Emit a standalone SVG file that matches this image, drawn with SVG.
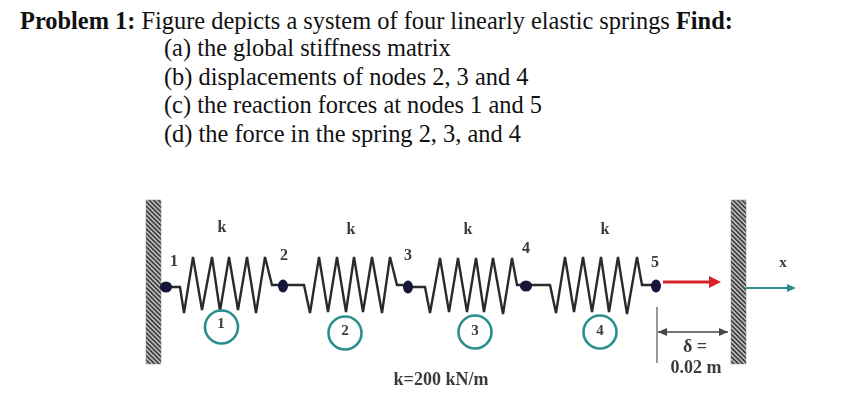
<svg xmlns="http://www.w3.org/2000/svg" width="847" height="415" viewBox="0 0 847 415">
<style>
.t{font-family:"Liberation Serif","Times New Roman",serif;font-size:24.4px;fill:#111}
.b{font-weight:bold}
.f{font-family:"Liberation Serif","Times New Roman",serif;font-weight:bold;fill:#3a3a3a;text-anchor:middle}
.s{font-size:16px}
.e{font-size:15px}
.m{font-size:18px}
.sp{fill:none;stroke:#2a2a2a;stroke-width:2.4;stroke-linejoin:miter}
.n{fill:#12123a}
.c{fill:none;stroke:#2b8f8c;stroke-width:2.6}
.w{fill:url(#h);stroke:#888;stroke-width:.5}
</style>
<defs>
<pattern id="h" width="3.2" height="3.2" patternUnits="userSpaceOnUse" patternTransform="rotate(45)">
<rect width="3.2" height="3.2" fill="#c4c4c4"/><rect width="3.2" height="1.7" fill="#3c3c3c"/>
</pattern>
<filter id="soft" x="-5%" y="-5%" width="110%" height="110%"><feGaussianBlur stdDeviation="0.55"/></filter>
<marker id="red" markerUnits="userSpaceOnUse" markerWidth="13" markerHeight="13" refX="1" refY="6.5" orient="auto"><path d="M0 .5L12 6.5L0 12.5Z" fill="#d8232a"/></marker>
<marker id="teal" markerUnits="userSpaceOnUse" markerWidth="10" markerHeight="8" refX="1" refY="4" orient="auto"><path d="M0 0L9 4L0 8Z" fill="#2b8f8c"/></marker>
<marker id="gr" markerUnits="userSpaceOnUse" markerWidth="10" markerHeight="8" refX="9" refY="4" orient="auto-start-reverse"><path d="M0 0L9 4L0 8Z" fill="#444"/></marker>
</defs>
<g id="problem">
<text class="t b" x="20" y="29">Problem 1:<tspan class="t" font-weight="normal"> Figure depicts a system of four linearly elastic springs </tspan>Find:</text>
<text class="t" x="164" y="56">(a) the global stiffness matrix</text>
<text class="t" x="164" y="85">(b) displacements of nodes 2, 3 and 4</text>
<text class="t" x="164" y="113">(c) the reaction forces at nodes 1 and 5</text>
<text class="t" x="164" y="142">(d) the force in the spring 2, 3, and 4</text>
</g>
<g filter="url(#soft)">
<g id="wall-left"><rect class="w" x="146" y="200" width="15" height="164"/></g>
<g id="wall-right"><rect class="w" x="731" y="200" width="15" height="164"/></g>
<g id="connectors">
<path class="sp" d="M166 287H180L184 313L193 257L202 310L212 257L220 311L229 257L238 310L247 257L256 313L265 257L272 285H283"/>
<path class="sp" d="M283 285H304L310 313L319 257L328 312L337 257L346 312L354 257L363 312L372 257L382 313L390 257L397 285H408"/>
<path class="sp" d="M408 287H425L430 313L440 258L449 312L458 258L467 312L476 258L484 312L493 258L503 314L512 258L517 285H526"/>
<path class="sp" d="M526 285H550L556 313L565 257L574 312L583 257L592 312L601 257L609 312L618 257L627 314L637 257L642 285H656"/>
<path d="M663 282H710" fill="none" stroke="#d8232a" stroke-width="3" marker-end="url(#red)"/>
<path d="M746 288H788" fill="none" stroke="#2b8f8c" stroke-width="2.2" marker-end="url(#teal)"/>
<path d="M657 307V363" fill="none" stroke="#555" stroke-width="1.2"/>
<path d="M658 332H728" fill="none" stroke="#444" stroke-width="1.6" marker-start="url(#gr)" marker-end="url(#gr)"/>
</g>
<g id="node-1"><ellipse class="n" cx="166" cy="287" rx="6" ry="5.5"/><text class="f s" x="174" y="266">1</text></g>
<g id="node-2"><ellipse class="n" cx="283" cy="286" rx="5" ry="6.5"/><text class="f s" x="284" y="260">2</text></g>
<g id="node-3"><ellipse class="n" cx="408" cy="287" rx="5" ry="6.5"/><text class="f s" x="408" y="260">3</text></g>
<g id="node-4"><ellipse class="n" cx="526" cy="286" rx="6" ry="5.5"/><text class="f s" x="526" y="253">4</text></g>
<g id="node-5"><ellipse class="n" cx="656" cy="286" rx="5" ry="6.5"/><text class="f s" x="655" y="267">5</text></g>
<g id="element-1"><circle class="c" cx="221.5" cy="327" r="16.5"/><text class="f e" x="221" y="328">1</text></g>
<g id="element-2"><circle class="c" cx="345" cy="333" r="16.5"/><text class="f e" x="345" y="335">2</text></g>
<g id="element-3"><circle class="c" cx="475" cy="332" r="16.5"/><text class="f e" x="475" y="335">3</text></g>
<g id="element-4"><circle class="c" cx="600" cy="332" r="16.5"/><text class="f e" x="600" y="335">4</text></g>
<g id="labels">
<text class="f s" x="222" y="232">k</text>
<text class="f s" x="351" y="234">k</text>
<text class="f s" x="468" y="234">k</text>
<text class="f s" x="605" y="234">k</text>
<text class="f e" x="783" y="267">x</text>
<text class="f m" x="695" y="352">δ =</text>
<text class="f m" x="696" y="373">0.02 m</text>
<text class="f m" x="441" y="385">k=200 kN/m</text>
</g>
</g>
</svg>
